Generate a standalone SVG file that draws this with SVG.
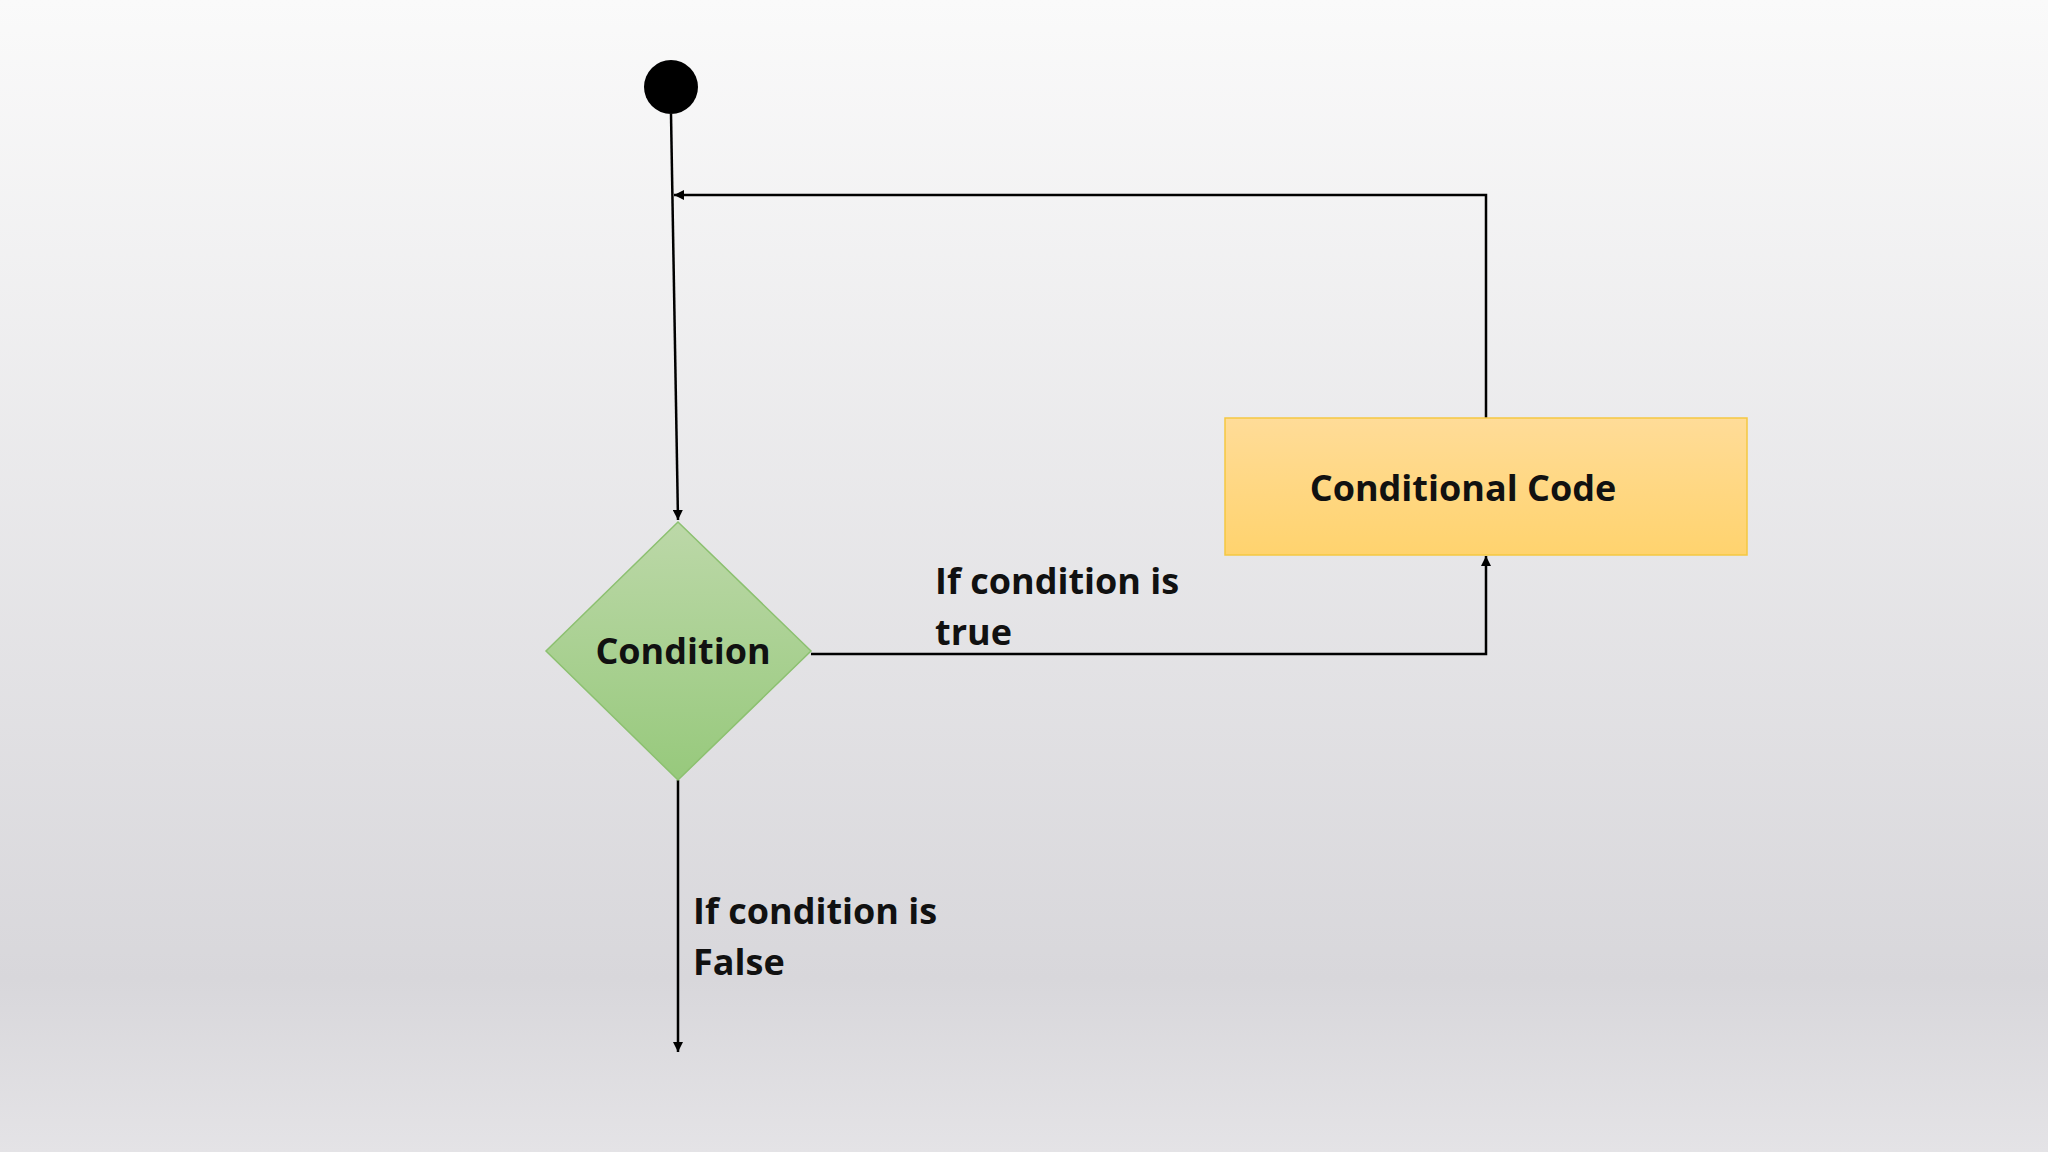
<svg xmlns="http://www.w3.org/2000/svg" width="2048" height="1152" viewBox="0 0 2048 1152">
<defs>
<linearGradient id="bg" x1="0" y1="0" x2="0" y2="1">
<stop offset="0" stop-color="#fafafa"/><stop offset="0.85" stop-color="#d8d7db"/><stop offset="1" stop-color="#e4e3e6"/>
</linearGradient>
<linearGradient id="g" x1="0" y1="0" x2="0" y2="1"><stop offset="0" stop-color="#bcd8a8"/><stop offset="1" stop-color="#97c97c"/></linearGradient>
<linearGradient id="y" x1="0" y1="0" x2="0" y2="1"><stop offset="0" stop-color="#ffdc98"/><stop offset="1" stop-color="#ffd36e"/></linearGradient>
<marker id="a" viewBox="0 0 10 10" refX="10" refY="5" markerWidth="10" markerHeight="10" markerUnits="userSpaceOnUse" orient="auto"><path d="M0,0L10,5L0,10z" fill="#000"/></marker>
<style>.t{font-family:"Open Sans","Liberation Sans",sans-serif;font-weight:bold;font-size:36px;fill:#111}.c{fill:none;stroke:#000;stroke-width:2.5}</style>
</defs>
<rect width="2048" height="1152" fill="url(#bg)"/>
<g id="connectors">
<path class="c" d="M671,114L678,520" marker-end="url(#a)"/>
<path class="c" d="M1486,418V195H674" marker-end="url(#a)"/>
<path class="c" d="M811,654H1486V556" marker-end="url(#a)"/>
<path class="c" d="M678,780V1052" marker-end="url(#a)"/>
<text class="t" x="935" y="594">If condition is</text>
<text class="t" x="935" y="645">true</text>
<text class="t" x="693" y="924">If condition is</text>
<text class="t" x="693" y="975">False</text>
</g>
<g id="start"><circle cx="671" cy="87" r="27" fill="#000"/></g>
<g id="condition"><polygon points="678,522 811,651 678,780 546,651" fill="url(#g)" stroke="#8cc070" stroke-width="1.5"/>
<text class="t" x="683" y="664" text-anchor="middle">Condition</text></g>
<g id="code"><rect x="1225" y="418" width="522" height="137" fill="url(#y)" stroke="#f5c842" stroke-width="1.5"/>
<text class="t" x="1463" y="501" text-anchor="middle">Conditional Code</text></g>
</svg>
